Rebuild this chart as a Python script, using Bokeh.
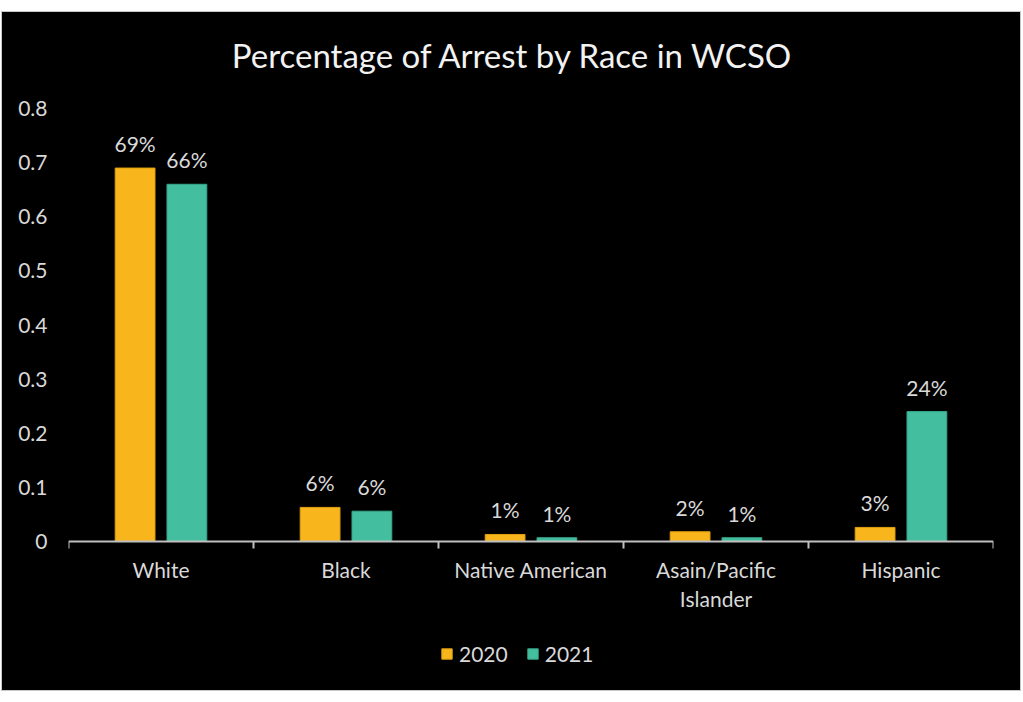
import numpy as np
from bokeh.plotting import figure
from bokeh.models import ColumnDataSource, Range1d, FixedTicker, LabelSet, Label, Legend, LegendItem, Span
from bokeh.core.properties import value
from bokeh.embed import file_html
from bokeh.resources import INLINE

title = "Percentage of Arrest by Race in WCSO"
categories = ["White", "Black", "Native American", "Asain/Pacific\nIslander", "Hispanic"]
values_2020 = [0.69, 0.063, 0.013, 0.018, 0.026]
values_2021 = [0.66, 0.056, 0.007, 0.007, 0.24]
labels_2020 = ["69%", "6%", "1%", "2%", "3%"]
labels_2021 = ["66%", "6%", "1%", "1%", "24%"]
y_ticks = [0, 0.1, 0.2, 0.3, 0.4, 0.5, 0.6, 0.7, 0.8]

FONT = "Lato"
TXT = "#d9d9d9"
ORANGE = "#F8B51C"
TEAL = "#43BF9F"
AXIS = "#bfbfbf"
FS = "21px"

n = len(categories)
idx = np.arange(n)
centers = idx + 0.5
bounds = np.arange(n + 1)
line1 = [c.split("\n")[0] for c in categories]
line2 = [c.split("\n")[1] if "\n" in c else "" for c in categories]

src20 = ColumnDataSource(dict(x=centers - 0.14, top=values_2020, label=labels_2020))
src21 = ColumnDataSource(dict(x=centers + 0.14, top=values_2021, label=labels_2021))
srccat1 = ColumnDataSource(dict(x=centers, y=np.zeros(n), label=line1))
srccat2 = ColumnDataSource(dict(x=centers, y=np.zeros(n), label=line2))

ymax = max(y_ticks)
p = figure(width=1018, height=678, output_backend="svg", toolbar_location=None,
           x_axis_location=None,
           x_range=Range1d(0, n), y_range=Range1d(-0.2753, 0.9774),
           min_border_left=66, min_border_right=27, min_border_top=0, min_border_bottom=0,
           margin=(12, 3, 12, 2))
p.styles = {"background-color": "black", "outline": "1px solid #c8c8c8"}

p.background_fill_color = "black"
p.border_fill_color = "black"
p.outline_line_color = None
p.xgrid.visible = False
p.ygrid.visible = False

p.add_layout(Label(x=n / 2, y=ymax, text=title, x_offset=-18, y_offset=54,
                   text_align="center", text_baseline="middle",
                   text_color="#f2f2f2", text_font=FONT, text_font_size="33px"))

r20 = p.vbar(x="x", top="top", width=0.215, source=src20, fill_color=ORANGE, line_color="#E0A010", line_width=1)
r21 = p.vbar(x="x", top="top", width=0.215, source=src21, fill_color=TEAL, line_color="#38A88A", line_width=1)

for s in (src20, src21):
    p.add_layout(LabelSet(x="x", y="top", text="label", source=s, y_offset=12,
                          text_align="center", text_baseline="bottom",
                          text_color=TXT, text_font=value(FONT), text_font_size=value(FS)))

# x axis drawn in the frame at y = 0
p.add_layout(Span(location=0, dimension="width", line_color=AXIS, line_width=2))
p.segment(x0=bounds, y0=np.zeros(n + 1), x1=bounds, y1=np.full(n + 1, -0.013),
          line_color=AXIS, line_width=2)
for s, off in ((srccat1, -16), (srccat2, -45)):
    p.add_layout(LabelSet(x="x", y="y", text="label", source=s, y_offset=off,
                          text_align="center", text_baseline="top",
                          text_color=TXT, text_font=value(FONT), text_font_size=value(FS)))

ya = p.yaxis[0]
ya.ticker = FixedTicker(ticks=y_ticks)
ya.major_label_overrides = {float(t): ("0" if t == 0 else f"{t:g}") for t in y_ticks}
ya.axis_line_color = None
ya.major_tick_line_color = None
ya.minor_tick_line_color = None
ya.major_label_text_color = TXT
ya.major_label_text_font = FONT
ya.major_label_text_font_size = FS
ya.major_label_standoff = 15

legend = Legend(items=[LegendItem(label="2020", renderers=[r20]), LegendItem(label="2021", renderers=[r21])],
                orientation="horizontal", location=(372, 24))
legend.background_fill_alpha = 0
legend.border_line_color = None
legend.padding = 0
legend.margin = 0
legend.label_text_color = TXT
legend.label_text_font = FONT
legend.label_text_font_size = FS
legend.glyph_width = 13
legend.glyph_height = 13
legend.spacing = 18
legend.label_standoff = 6
p.add_layout(legend)

open("out.html", "w").write(file_html(p, INLINE))
